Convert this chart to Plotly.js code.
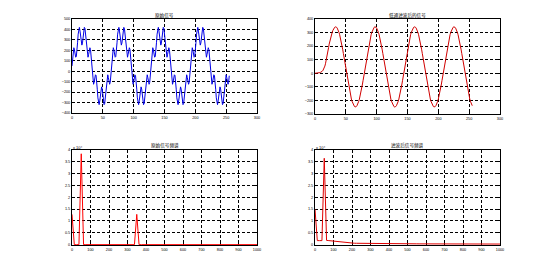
<!DOCTYPE html>
<html><head><meta charset="utf-8">
<script src="https://cdn.plot.ly/plotly-3.0.1.min.js"></script>
<style>html,body{margin:0;padding:0;background:#fff}#c{width:554px;height:278px}</style>
</head><body><div id="c"></div>
<script>
// ---- data ----
const titles = ["原始信号", "低通滤波后的信号", "原始信号频谱", "滤波后信号频谱"];

// original signal (samples 0..255)
const rawSignal = [
50,143,207,225,203,162,134,141,191,272,355,410,420,384,325,271,250,271,325,384,420,410,355,272,191,141,134,162,203,225,207,143,
50,-43,-107,-125,-103,-62,-34,-41,-91,-172,-255,-310,-320,-284,-225,-171,-150,-171,-225,-284,-320,-310,-255,-172,-91,-41,-34,-62,-103,-125,-107,-43,
50,143,207,225,203,162,134,141,191,272,355,410,420,384,325,271,250,271,325,384,420,410,355,272,191,141,134,162,203,225,207,143,
50,-43,-107,-125,-103,-62,-34,-41,-91,-172,-255,-310,-320,-284,-225,-171,-150,-171,-225,-284,-320,-310,-255,-172,-91,-41,-34,-62,-103,-125,-107,-43,
50,143,207,225,203,162,134,141,191,272,355,410,420,384,325,271,250,271,325,384,420,410,355,272,191,141,134,162,203,225,207,143,
50,-43,-107,-125,-103,-62,-34,-41,-91,-172,-255,-310,-320,-284,-225,-171,-150,-171,-225,-284,-320,-310,-255,-172,-91,-41,-34,-62,-103,-125,-107,-43,
50,143,207,225,203,162,134,141,191,272,355,410,420,384,325,271,250,271,325,384,420,410,355,272,191,141,134,162,203,225,207,143,
50,-43,-107,-125,-103,-62,-34,-41,-91,-172,-255,-310,-320,-284,-225,-171,-150,-171,-225,-284,-320,-310,-255,-172,-91,-41,-34,-62,-103,-125,-107,-43
];

// filtered signal (samples 0..255)
const filteredSignal = [
0,0,0,0,1,2,3,4,5,7,9,12,16,22,30,40,53,70,90,112,136,162,189,215,238,258,276,291,304,316,326,334,339,342,
342,339,333,325,314,300,284,266,245,223,199,173,146,119,90,62,
33,4,-25,-52,-79,-105,-129,-151,-172,-190,-206,-220,-231,-239,-245,-248,
-248,-245,-239,-231,-220,-206,-190,-172,-151,-129,-105,-79,-52,-25,4,33,
62,90,119,146,173,199,223,245,266,284,300,314,325,333,339,342,
342,339,333,325,314,300,284,266,245,223,199,173,146,119,90,62,
33,4,-25,-52,-79,-105,-129,-151,-172,-190,-206,-220,-231,-239,-245,-248,
-248,-245,-239,-231,-220,-206,-190,-172,-151,-129,-105,-79,-52,-25,4,33,
62,90,119,146,173,199,223,245,266,284,300,314,325,333,339,342,
342,339,333,325,314,300,284,266,245,223,199,173,146,119,90,62,
33,4,-25,-52,-79,-105,-129,-151,-172,-190,-206,-220,-231,-239,-245,-248,
-248,-245,-239,-231,-220,-206,-190,-172,-151,-129,-105,-79,-52,-25,4,33,
62,90,119,146,173,199,223,245,266,284,300,314,325,333,339,342,
342,339,333,325,314,300,284,266,245,223,199,173,146,119,90,62,
33,4,-25,-52,-79,-105,-129,-151,-172,-190,-206,-220,-231,-239
];

// spectra, in units of 1e4, bins of 12.5 Hz from 0 to 1000
const rawSpectrum = [
1.28,0,0,0,3.84,0,0,0,0,0,0,0,0,0,0,0,0,0,0,0,0,0,0,0,0,0,0,0,1.28,0,
0,0,0,0,0,0,0,0,0,0,0,0,0,0,0,0,0,0,0,0,0,0,0,0,0,0,0,0,0,0,
0,0,0,0,0,0,0,0,0,0,0,0,0,0,0,0,0,0,0,0,0
];
const filteredSpectrum = [
1.5,0.17,0.17,0.17,3.65,0.18,0.17,0.16,0.13,0.12,0.10,0.09,0.08,0.075,0.07,0.065,0.06,0.06,0.058,0.056,
0.055,0.054,0.053,0.052,0.051,0.05,0.049,0.048,0.047,0.046,0.045,0.044,0.043,0.042,0.041,0.04,0.039,0.038,0.037,0.036,
0.035,0.035,0.034,0.034,0.034,0.033,0.033,0.033,0.032,0.032,0.032,0.031,0.031,0.031,0.030,0.030,0.030,0.030,0.029,0.029,
0.029,0.029,0.028,0.028,0.028,0.028,0.027,0.027,0.027,0.027,0.027,0.026,0.026,0.026,0.026,0.026,0.025,0.025,0.025,0.025,0.025
];
const binWidth = 12.5;
const expLabel = "x 10⁴";

// ---- figure ----
const n = rawSignal.map((_, i) => i);
const freq = rawSpectrum.map((_, k) => k * binWidth);

const traces = [
  {x: n, y: rawSignal, xaxis: 'x', yaxis: 'y', mode: 'lines', line: {color: '#0000e6', width: 1}},
  {x: n, y: filteredSignal, xaxis: 'x2', yaxis: 'y2', mode: 'lines', line: {color: '#d00000', width: 1}},
  {x: freq, y: rawSpectrum, xaxis: 'x3', yaxis: 'y3', mode: 'lines', line: {color: '#ff0000', width: 1}},
  {x: freq, y: filteredSpectrum, xaxis: 'x4', yaxis: 'y4', mode: 'lines', line: {color: '#e00000', width: 1}}
];

const tickFont = {family: 'Liberation Sans, Arial, sans-serif', size: 3.8, color: '#000'};
function ax(extra) {
  return Object.assign({
    showline: true, linecolor: '#000', linewidth: 1, mirror: 'ticks',
    ticks: 'inside', ticklen: 2, tickcolor: '#000', tickwidth: 1,
    showgrid: true, gridcolor: '#000', gridwidth: 1, griddash: '3px,2px',
    zeroline: false, tickfont: tickFont, fixedrange: true, layer: 'below traces'
  }, extra);
}

const xL = [72/554, 257/554], xR = [315/554, 500/554];
const yT = [1 - 113/278, 1 - 19/278], yT2 = [1 - 114/278, 1 - 19/278], yB = [1 - 245/278, 1 - 150/278];

const titleFont = {family: 'Noto Sans CJK SC, sans-serif', size: 4.6, color: '#000'};
const annotations = [
  {text: titles[0], x: (xL[0]+xL[1])/2, y: 1 - 15/278},
  {text: titles[1], x: (xR[0]+xR[1])/2, y: 1 - 15/278},
  {text: titles[2], x: (xL[0]+xL[1])/2, y: 1 - 145/278},
  {text: titles[3], x: (xR[0]+xR[1])/2, y: 1 - 145/278},
].map(a => Object.assign(a, {xref: 'paper', yref: 'paper', showarrow: false, xanchor: 'center', yanchor: 'middle', font: titleFont}));
annotations.push(
  {text: expLabel, x: 71/554, y: 1 - 147/278, xref: 'paper', yref: 'paper', showarrow: false, xanchor: 'left', yanchor: 'middle', font: {family: 'Liberation Sans, Arial', size: 4, color: '#000'}},
  {text: expLabel, x: 314/554, y: 1 - 147/278, xref: 'paper', yref: 'paper', showarrow: false, xanchor: 'left', yanchor: 'middle', font: {family: 'Liberation Sans, Arial', size: 4, color: '#000'}}
);

const layout = {
  width: 554, height: 278, margin: {l: 0, r: 0, t: 0, b: 0},
  paper_bgcolor: '#fff', plot_bgcolor: '#fff', showlegend: false,
  xaxis: ax({domain: xL, anchor: 'y', range: [0, 300], dtick: 50, tick0: 0}),
  yaxis: ax({domain: yT, anchor: 'x', range: [-400, 500], dtick: 100, tick0: 0}),
  xaxis2: ax({domain: xR, anchor: 'y2', range: [0, 300], dtick: 50, tick0: 0}),
  yaxis2: ax({domain: yT2, anchor: 'x2', range: [-300, 400], dtick: 100, tick0: 0}),
  xaxis3: ax({domain: xL, anchor: 'y3', range: [0, 1000], dtick: 100, tick0: 0}),
  yaxis3: ax({domain: yB, anchor: 'x3', range: [-0.015, 4], dtick: 0.5, tick0: 0}),
  xaxis4: ax({domain: xR, anchor: 'y4', range: [0, 1000], dtick: 100, tick0: 0}),
  yaxis4: ax({domain: yB, anchor: 'x4', range: [-0.015, 4], dtick: 0.5, tick0: 0}),
  annotations: annotations
};

Plotly.newPlot('c', traces, layout, {staticPlot: true, displayModeBar: false});
</script></body></html>
